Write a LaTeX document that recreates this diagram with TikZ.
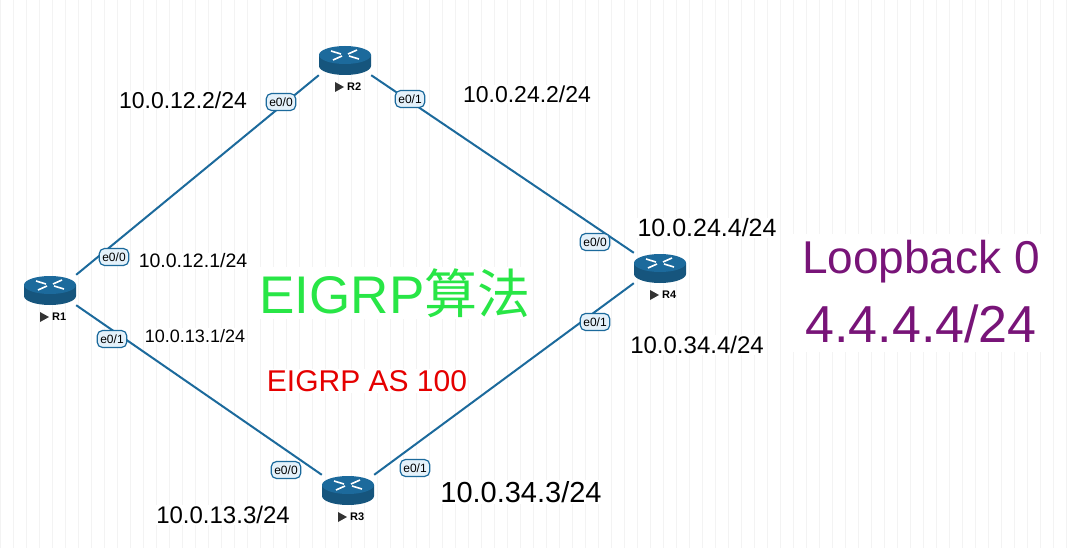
\documentclass[tikz,border=0pt]{standalone}
\usepackage{fontspec}
\setmainfont{Liberation Sans}
\newfontfamily\cjk{Noto Sans CJK SC}
\begin{document}
\begin{tikzpicture}[x=1pt,y=-1pt,
  link/.style={draw=rtblue,line width=2pt},
  iface/.style={draw=rtblue,fill=tagfill,rounded corners=5pt,font=\fontsize{12}{12}\selectfont,inner xsep=3pt,inner ysep=4pt,line width=1.2pt},
  ip/.style={fill=white,inner sep=1pt},
  rlab/.style={font=\fontsize{11}{11}\selectfont\bfseries},
  rt/.style={minimum width=52pt,minimum height=30pt,inner sep=0pt}]
\definecolor{rtblue}{HTML}{1C6A9C}
\definecolor{tagfill}{HTML}{E4F1FA}
\definecolor{gridc}{HTML}{F3F3F3}
\useasboundingbox (0,0) rectangle (1070,548);
\fill[white] (0,0) rectangle (1070,548);
\draw[gridc,line width=0.6pt,step=13] (0,0) grid (1070,548);
% routers
\foreach \n/\x/\y in {R1/50/290,R2/345/60,R3/348/490,R4/660/268}{
  \node[rt] (\n) at (\x,\y) {};
  \fill[rtblue!80!black] (\x-26,\y-5) -- (\x-26,\y+6) arc[start angle=180,end angle=0,x radius=26,y radius=9] -- (\x+26,\y-5) -- cycle;
  \fill[rtblue] (\x,\y-5) ellipse[x radius=26,y radius=9];
  \draw[white,line width=1.6pt] (\x-14,\y-9)--(\x-4,\y-6) (\x+14,\y-1)--(\x+4,\y-4) (\x+12,\y-10)--(\x+3,\y-6) (\x-12,\y)--(\x-3,\y-4);
  \fill[black!80] (\x-10,\y+22) -- (\x-10,\y+32) -- (\x-1,\y+27) -- cycle;
  \node[rlab,anchor=west,inner sep=1pt] (\n l) at (\x+1,\y+27) {\n};
}
% links
\draw[link] (R1.north east) -- (R2.south west);
\draw[link] (R2.south east) -- (R4.north west);
\draw[link] (R1.south east) -- (R3.north west);
\draw[link] (R3.north east) -- (R4.south west);
% interface tags
\node[iface] (t1) at (114,257) {e0/0};
\node[iface] (t2) at (281,102) {e0/0};
\node[iface] (t3) at (410,99) {e0/1};
\node[iface] (t4) at (595,242) {e0/0};
\node[iface] (t5) at (595,322) {e0/1};
\node[iface] (t6) at (112,339) {e0/1};
\node[iface] (t7) at (286,470) {e0/0};
\node[iface] (t8) at (415,468) {e0/1};
% ip labels
\node[ip,font=\fontsize{23}{23}\selectfont] (a1) at (183,100) {10.0.12.2/24};
\node[ip,font=\fontsize{23}{23}\selectfont] (a2) at (527,94) {10.0.24.2/24};
\node[ip,font=\fontsize{19.5}{20}\selectfont] (a3) at (193,261) {10.0.12.1/24};
\node[ip,font=\fontsize{18}{18}\selectfont] (a4) at (195,336) {10.0.13.1/24};
\node[ip,font=\fontsize{25}{25}\selectfont] (a5) at (707,228) {10.0.24.4/24};
\node[ip,font=\fontsize{24}{24}\selectfont] (a6) at (697,345) {10.0.34.4/24};
\node[ip,font=\fontsize{24}{24}\selectfont] (a7) at (223,515) {10.0.13.3/24};
\node[ip,font=\fontsize{29}{29}\selectfont] (a8) at (521,492) {10.0.34.3/24};
\node[ip,text={rgb,255:red,40;green,230;blue,70},font=\fontsize{53}{53}\selectfont] (t) at (395,293) {EIGRP{\cjk 算法}};
\node[ip,text=red!90!black,font=\fontsize{30}{30}\selectfont] (as) at (367,381) {EIGRP AS 100};
\node[fill=white,minimum width=262pt,minimum height=118pt] (lbg) at (920,293) {};
\node[text={rgb,255:red,120;green,20;blue,120},font=\fontsize{46}{46}\selectfont] (lb) at (921,262) {Loopback 0};
\node[text={rgb,255:red,120;green,20;blue,120},font=\fontsize{52}{52}\selectfont] (lbip) at (921,324) {4.4.4.4/24};
\end{tikzpicture}
\end{document}
